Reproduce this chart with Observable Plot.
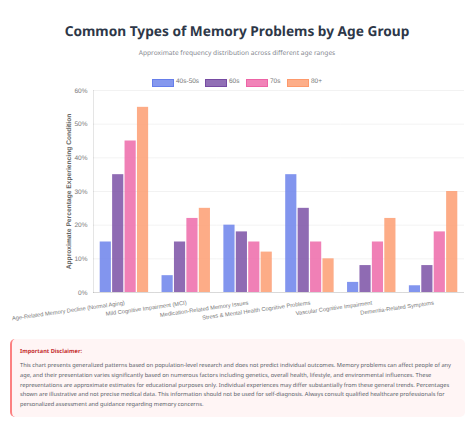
<!DOCTYPE html>
<html><head><meta charset="utf-8">
<script src="https://cdn.jsdelivr.net/npm/d3@7"></script>
<script src="https://cdn.jsdelivr.net/npm/@observablehq/plot@0.6"></script>
<style>
html,body{margin:0;padding:0;background:#fff;width:474px;height:426px;overflow:hidden}
body{position:relative;font-family:"Noto Sans","Open Sans",sans-serif;text-rendering:geometricPrecision}
h1{position:absolute;left:0;width:474px;top:21px;margin:0;text-align:center;font-size:13.7px;line-height:22px;font-weight:700;color:#2d3748}
.sub{position:absolute;left:0;width:474px;top:47px;text-align:center;font-size:6.6px;line-height:12px;color:#85888f}
.legend{position:absolute;left:0;width:474px;top:76px;height:12px;font:6.5px/12px "Liberation Sans",sans-serif;color:#777}
.legend span{position:absolute;top:0;white-space:nowrap}
.legend i{position:absolute;top:2.5px;width:20px;height:6px;border:.7px solid;box-sizing:content-box}
#chart{position:absolute;left:0;top:80px}
#chart svg{text-rendering:geometricPrecision}
.box{position:absolute;left:10px;top:339px;width:455px;height:78px;box-sizing:border-box;background:#fff5f5;border-left:2px solid #fc8181;border-radius:5px;padding:7px 8px;font-size:5.68px;line-height:9.75px;color:#555b66;white-space:nowrap}
.box b{display:block;color:#c53030;font-size:5.65px;line-height:11px;margin-bottom:4px}
</style></head><body>
<h1>Common Types of Memory Problems by Age Group</h1>
<div class="sub">Approximate frequency distribution across different age ranges</div>
<div class="legend" id="legend"></div>
<div id="chart"></div>
<div class="box"><b>Important Disclaimer:</b>This chart presents generalized patterns based on population-level research and does not predict individual outcomes. Memory problems can affect people of any<br>age, and their presentation varies significantly based on numerous factors including genetics, overall health, lifestyle, and environmental influences. These<br>representations are approximate estimates for educational purposes only. Individual experiences may differ substantially from these general trends. Percentages<br>shown are illustrative and not precise medical data. This information should not be used for self-diagnosis. Always consult qualified healthcare professionals for<br>personalized assessment and guidance regarding memory concerns.</div>
<script>
const categories = ["Age-Related Memory Decline (Normal Aging)","Mild Cognitive Impairment (MCI)","Medication-Related Memory Issues","Stress & Mental Health Cognitive Problems","Vascular Cognitive Impairment","Dementia-Related Symptoms"];
const ages = ["40s-50s","60s","70s","80+"];
const colors = ["#667eea","#764ba2","#ed64a6","#fd9a6c"];
const v4050 = [15,5,20,35,3,2];
const v60 = [35,15,18,25,8,8];
const v70 = [45,22,15,15,15,18];
const v80 = [55,25,12,10,22,30];
const legendX = [152,205,246,287];
const series = [v4050,v60,v70,v80];
const rows = series.flatMap((vals,i)=>vals.map((value,j)=>({category:categories[j],age:ages[i],value})));

const leg = document.getElementById("legend");
ages.forEach((a,i)=>{
  const sw=document.createElement("i");
  sw.style.left=legendX[i]+"px";
  sw.style.background=colors[i]+"cc";
  sw.style.borderColor=colors[i];
  leg.appendChild(sw);
  const s=document.createElement("span");
  s.style.left=(legendX[i]+24)+"px";
  s.textContent=a;
  leg.appendChild(s);
});

const plot = Plot.plot({
  width:474,height:256,
  marginLeft:93,marginRight:10,marginTop:10,marginBottom:44,
  style:{fontFamily:"Liberation Sans, sans-serif",background:"transparent"},
  fx:{domain:categories,padding:0,round:false,label:null},
  x:{domain:ages,paddingInner:0.1,paddingOuter:0.54,round:false,axis:null},
  y:{domain:[0,60],ticks:[0,10,20,30,40,50,60]},
  color:{domain:ages,range:colors},
  marks:[
    Plot.gridY([0,10,20,30,40,50,60],{stroke:"#000",strokeOpacity:0.05}),
    Plot.barY(rows,{fx:"category",x:"age",y:"value",fill:"age",fillOpacity:0.82,sort:null}),
    Plot.ruleY([0],{stroke:"#000",strokeOpacity:0.1}),
    Plot.frame({anchor:"left",facetAnchor:"left",stroke:"#000",strokeOpacity:0.1}),
    Plot.axisY({ticks:[0,10,20,30,40,50,60],tickFormat:d=>d+"%",tickSize:0,tickPadding:6,fontSize:6.5,color:"#777",label:null}),
    Plot.axisY({ticks:[],label:"Approximate Percentage Experiencing Condition",labelAnchor:"center",labelArrow:"none",labelOffset:27,fontSize:6.7,fontWeight:"bold",color:"#666"}),
    Plot.axisFx({anchor:"bottom",tickSize:0,tickPadding:8,tickRotate:-8,textAnchor:"end",fontSize:5.7,color:"#777",label:null})
  ]
});
document.getElementById("chart").appendChild(plot);
</script>
</body></html>
